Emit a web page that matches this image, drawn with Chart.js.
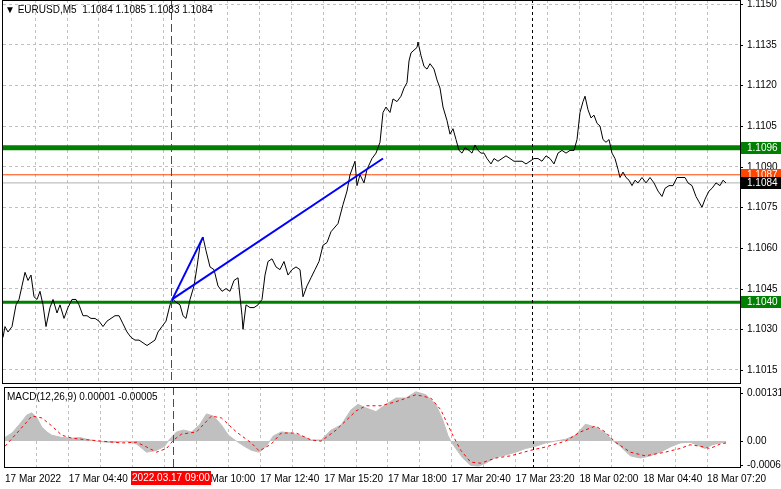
<!DOCTYPE html>
<html><head><meta charset="utf-8">
<script src="https://cdn.jsdelivr.net/npm/chart.js@4/dist/chart.umd.min.js"></script>
<style>
body{margin:0;background:#fff;width:781px;height:489px;overflow:hidden;position:relative;font-family:"Liberation Sans",sans-serif;}
#c1{position:absolute;left:0;top:0;}
#c2{position:absolute;left:0;top:386px;}
.t{position:absolute;font-size:10px;color:#000;white-space:nowrap;}
</style></head><body>
<canvas id="c1" width="781" height="386"></canvas>
<canvas id="c2" width="781" height="103"></canvas>
<div class="t" style="left:5px;top:4px;">▼ EURUSD,M5&nbsp; 1.1084 1.1085 1.1083 1.1084</div>
<div class="t" style="left:7px;top:391px;">MACD(12,26,9) 0.00001 -0.00005</div>
<div class="t" style="left:131px;top:471px;width:80px;height:14px;line-height:14px;background:#ff0000;color:#fff;text-align:center;">2022.03.17 09:00</div>
<script>
const priceBars=[0,1,2.5,4.5,6.5,8,9.5,11,12.5,14,15.5,17,18.5,20,21.5,23.5,25,27,28.5,30.5,32.5,34.5,36.5,38,40,42,44,46,48,50,52,54,56,58,60,62,64,66,68,70,72,74,76,77.5,79.5,81.5,83.5,85,86.5,88.5,90,91.5,93.5,95.5,97,98.5,100,101.5,103.5,105.5,107.5,109.5,111.5,113.5,115.5,117.5,119.5,120,121.5,123.5,125.5,127.5,129.5,131,132.5,134.5,136.5,138.5,140.5,142.5,144.5,146.5,148.5,150,152,154,156,158,160,162,164,167.5,170,172,173.5,176,177,178.5,180.5,182,184.5,186.5,188.5,190,191.5,193.5,195,197,199,200.5,202,203,204,205.5,207,207.5,209,210.5,212,213.5,215.5,217,218.5,220,222,223.5,225,226.5,228,229.5,231,233,234.5,236,237.5,239,240.5,242,244,245.5,247.5,249.5,251.5,253.5,255.5,257.5,259.5,261.5,263.5,265.5,267.5,269.5,271.5,273.5,275.5,277.5,279.5,281.5,283.5,285.5,287,288.5,290,291,292.5,294,295.5,297,298.5,300,301.5,303,304.5,306,307.5,308.5,310,311.5,313,314.5,316,317.5,319.5,321.5,323.5,325.5,327.5,329.5,331,333,335,337,339,341,342.5,344.5,346.5,348,349.5,351,353,354.5,356.5,358.5,360,361.5];
const priceVals=[1.1027,1.1031,1.1029,1.1031,1.1039,1.1041,1.1046,1.1051,1.1048,1.1050,1.1042,1.1041,1.1044,1.1039,1.1031,1.1038,1.1041,1.1036,1.1039,1.1034,1.1038,1.1041,1.1041,1.1039,1.1035,1.1035,1.1034,1.1034,1.1033,1.1031,1.1033,1.1034,1.1035,1.1035,1.1032,1.1029,1.1027,1.1026,1.1026,1.1025,1.1024,1.1025,1.1026,1.1029,1.1031,1.1033,1.1039,1.1041,1.1040,1.1039,1.1035,1.1034,1.1041,1.1046,1.1053,1.1061,1.1064,1.1059,1.1053,1.1052,1.1046,1.1044,1.1045,1.1044,1.1048,1.1049,1.1035,1.1030,1.1039,1.1038,1.1038,1.1039,1.1041,1.1050,1.1055,1.1056,1.1053,1.1052,1.1055,1.1050,1.1052,1.1053,1.1052,1.1042,1.1046,1.1049,1.1052,1.1055,1.1061,1.1062,1.1066,1.1069,1.1076,1.1081,1.1087,1.1092,1.1083,1.1087,1.1084,1.1089,1.1093,1.1095,1.1099,1.1110,1.1112,1.1110,1.1115,1.1114,1.1116,1.1119,1.1121,1.1129,1.1132,1.1133,1.1134,1.1136,1.1131,1.1127,1.1126,1.1128,1.1126,1.1122,1.1119,1.1112,1.1107,1.1102,1.1104,1.1100,1.1096,1.1095,1.1097,1.1096,1.1095,1.1098,1.1096,1.1095,1.1095,1.1093,1.1091,1.1093,1.1092,1.1093,1.1094,1.1093,1.1092,1.1092,1.1092,1.1091,1.1092,1.1093,1.1093,1.1092,1.1094,1.1093,1.1091,1.1095,1.1096,1.1095,1.1096,1.1096,1.1100,1.1110,1.1114,1.1116,1.1111,1.1108,1.1109,1.1106,1.1105,1.1100,1.1099,1.1100,1.1095,1.1093,1.1089,1.1086,1.1088,1.1086,1.1085,1.1083,1.1085,1.1084,1.1086,1.1084,1.1086,1.1084,1.1081,1.1079,1.1082,1.1083,1.1083,1.1086,1.1086,1.1086,1.1084,1.1083,1.1079,1.1077,1.1075,1.1078,1.1081,1.1082,1.1084,1.1083,1.1085,1.1084];
const histBars=[0,3.5,7,11,13.5,16,18.5,21,23.5,28.5,33.5,37.5,41,46,51,56,61,66,71,76,80,82.5,86,89.5,93.5,97.5,101,104.5,108.5,112,116,120,123.5,127.5,131,134.5,138.5,143.5,148.5,153.5,158.5,163.5,168.5,173.5,177,181,186,191,196,201,206,211,216,219.5,222,223.5,226,229.5,233.5,237.5,241,246,251,256,261,266,271,276,281,286,291,296,301,305,308.5,313.5,318.5,323.5,328.5,333.5,338.5,343.5,348.5,351,354.5,358.5,361.5];
const histVals=[0.0001,0.00022,0.00044,0.00071,0.00077,0.00063,0.00038,0.00025,0.00016,0.0001,0.00008,0.0001,0.00005,0,-0.00003,-0.00003,0,-0.00008,-0.0003,-0.00025,-0.00014,0.00005,0.00025,0.0003,0.00025,0.00044,0.00074,0.00068,0.00044,0.00016,0,-0.00014,-0.00025,-0.0003,-0.00014,0.00014,0.00025,0.00022,0.00014,0.00003,0.00003,0.0003,0.00044,0.00085,0.001,0.0009,0.0008,0.001,0.00117,0.00117,0.00134,0.00126,0.001,0.00057,0.00016,0,-0.0002,-0.00046,-0.00066,-0.00068,-0.0006,-0.00044,-0.00038,-0.0003,-0.0002,-0.00014,-0.00005,0,0.00005,0.00016,0.00046,0.00038,0.00022,0,-0.00014,-0.0004,-0.00046,-0.0004,-0.0003,-0.00016,-0.00005,-0.00003,-0.00014,-0.0002,-0.0001,-0.00005,-0.00003];
const sigBars=[0,6,13.5,18.5,23.5,28.5,33.5,38.5,48.5,58.5,66,71,76,81,84.5,88.5,96,103.5,108.5,116,123.5,127.5,133.5,138.5,146,153.5,158.5,166,176,181,188.5,196,206,213.5,218.5,224.5,228.5,233.5,238.5,246,253.5,263.5,271,281,288.5,296,301,306,313.5,321,331,338.5,343.5,348.5,353.5,358.5,361.5];
const sigVals=[-0.00014,0.00022,0.00068,0.00063,0.00041,0.00016,0.00008,0.00005,0,-0.00005,-0.00003,-0.00016,-0.0003,-0.0002,0.00003,0.00019,0.00025,0.00068,0.00063,0.00025,-0.00005,-0.00027,-0.00008,0.00022,0.00022,0.00003,0,0.0003,0.00082,0.00096,0.00096,0.00107,0.00126,0.00117,0.00085,0.00016,-0.00025,-0.00057,-0.0006,-0.00046,-0.0004,-0.00025,-0.00016,0,0.00025,0.00041,0.00025,-0.00003,-0.0003,-0.0004,-0.0003,-0.0002,-0.0001,-0.00014,-0.0002,-0.00008,-0.00005];
const priceTicks=[1.1015,1.1030,1.1045,1.1060,1.1075,1.1090,1.1105,1.1120,1.1135,1.1150];
const macdTicks=[-0.00064,0,0.00131];
const timeTickBars=[0,32,64,96,128,160,192,224,256,288,320,352];
const timeLabels=["17 Mar 2022","17 Mar 04:40","17 Mar 07:20","17 Mar 10:00","17 Mar 12:40","17 Mar 15:20","17 Mar 18:00","17 Mar 20:40","17 Mar 23:20","18 Mar 02:00","18 Mar 04:40","18 Mar 07:20"];
const supportLevel=1.1040, resistLevel=1.1097, askLevel=1.1087, bidLevel=1.1084;
const redVBar=84, blackVBar=264.5;
const blueA=[{x:84,y:1.1040},{x:100,y:1.1064}], blueB=[{x:84.5,y:1.1041},{x:190,y:1.1093}];

const FONT={family:"Liberation Sans",size:10};
const pts=(xs,ys)=>xs.map((x,i)=>({x,y:ys[i]}));
const hl=(v,c,w)=>({data:[{x:-2,y:v},{x:370,y:v}],borderColor:c,borderWidth:w,pointRadius:0,order:5});
const frame={id:'frame',afterDraw(ch){const a=ch.chartArea,c=ch.ctx;c.save();c.strokeStyle='#000';c.lineWidth=1;c.strokeRect(a.left-0.5,a.top+0.5,a.right-a.left+1,a.bottom-a.top-1);c.restore();}};
const vlines={id:'vl',afterDatasetsDraw(ch){const c=ch.ctx,a=ch.chartArea,xs=ch.scales.x;c.save();c.lineWidth=1;
 [[redVBar,'#ff0000',[8,4]],[blackVBar,'#000',[3,3]]].forEach(([b,col,d])=>{const px=Math.round(xs.getPixelForValue(b))+0.5;c.strokeStyle=col;c.setLineDash(d);c.beginPath();c.moveTo(px,a.top);c.lineTo(px,a.bottom);c.stroke();});c.restore();}};
function rightLabels(ticks,fmt){return {id:'rl',afterDraw(ch){const c=ch.ctx,ys=ch.scales.y,a=ch.chartArea;c.save();c.font='10px "Liberation Sans"';c.textBaseline='middle';c.fillStyle='#000';c.strokeStyle='#000';
 ticks.forEach(v=>{const py=Math.round(ys.getPixelForValue(v))+0.5;c.beginPath();c.moveTo(a.right,py);c.lineTo(a.right+3,py);c.stroke();c.fillText(fmt(v),a.right+7,py);});c.restore();}};}
const tags={id:'tags',afterDraw(ch){const c=ch.ctx,ys=ch.scales.y,a=ch.chartArea;c.save();c.font='10px "Liberation Sans"';c.textBaseline='middle';
 [[resistLevel,'#008000','#fff','1.1096'],[askLevel,'#ff4500','#fff','1.1087'],[bidLevel,'#000','#fff','1.1084'],[supportLevel,'#008000','#fff','1.1040']].forEach(([v,bg,fg,t])=>{const py=Math.round(ys.getPixelForValue(v));c.fillStyle=bg;c.fillRect(a.right+1,py-6,40,12);c.fillStyle=fg;c.fillText(t,a.right+7,py+0.5);});c.restore();}};
const xTicks=s=>{s.ticks=[];for(let b=16;b<368;b+=16)s.ticks.push({value:b});};
const xTicks2=s=>{s.ticks=[];for(let b=0;b<368;b+=16)s.ticks.push({value:b});};
new Chart(document.getElementById('c1'),{type:'line',
 data:{datasets:[
  {data:pts(priceBars,priceVals),borderColor:'#000',borderWidth:1,pointRadius:0,tension:0,order:1},
  {data:blueA,borderColor:'#0000ff',borderWidth:2,pointRadius:0,order:0},
  {data:blueB,borderColor:'#0000ff',borderWidth:2,pointRadius:0,order:0},
  hl(resistLevel,'#008000',5),hl(supportLevel,'#008000',3),hl(askLevel,'#ff4500',1),hl(bidLevel,'#b0b0b0',1)]},
 options:{responsive:false,animation:false,events:[],layout:{padding:{left:3,top:0,bottom:2,right:41}},
  plugins:{legend:{display:false},tooltip:{enabled:false}},
  scales:{
   x:{type:'linear',min:0,max:368.5,afterBuildTicks:xTicks,ticks:{display:false},grid:{color:'#c0c0c0',drawTicks:false},border:{display:false,dash:[3,3]},afterFit:s=>{s.height=0;}},
   y:{position:'right',min:1.10098,max:1.11515,afterBuildTicks:s=>{s.ticks=priceTicks.map(v=>({value:v}));},
      ticks:{display:false},grid:{color:'#c0c0c0',drawTicks:false},border:{display:false,dash:[3,3]},afterFit:s=>{s.width=0;}}}},
 plugins:[frame,vlines,rightLabels(priceTicks,v=>v.toFixed(4)),tags]});
new Chart(document.getElementById('c2'),{type:'line',
 data:{datasets:[
  {data:pts(sigBars,sigVals),borderColor:'#ff0000',borderWidth:1,borderDash:[3,3],pointRadius:0,order:0},
  {data:pts(histBars,histVals),borderColor:'#c0c0c0',backgroundColor:'#c0c0c0',borderWidth:1,fill:'origin',pointRadius:0,order:1}]},
 options:{responsive:false,animation:false,events:[],layout:{padding:{left:3,top:1,bottom:0,right:41}},
  plugins:{legend:{display:false},tooltip:{enabled:false}},
  scales:{
   x:{type:'linear',min:0,max:368.5,afterBuildTicks:xTicks2,
      ticks:{font:FONT,color:'#000',align:'start',maxRotation:0,autoSkip:false,padding:5,callback:v=>{const i=timeTickBars.indexOf(v);return i>=0?timeLabels[i]:'';}},
      grid:{color:(ctx)=>ctx.tick&&ctx.tick.value===0?'rgba(0,0,0,0)':'#c0c0c0',drawTicks:false},border:{display:false,dash:[3,3]},afterFit:s=>{s.height=21;}},
   y:{position:'right',min:-0.00073,max:0.00147,ticks:{display:false},grid:{display:false},border:{display:false},afterFit:s=>{s.width=0;}}}},
 plugins:[frame,vlines,rightLabels(macdTicks,v=>v===0?'0.00':v.toFixed(5))]});
</script></body></html>
